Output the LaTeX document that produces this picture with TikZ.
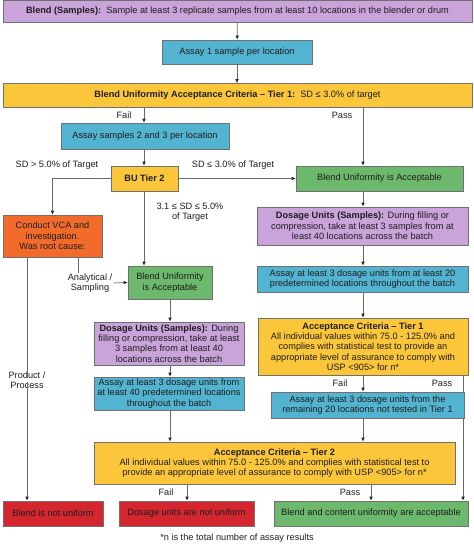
\documentclass[tikz,border=0pt]{standalone}
\usepackage{fontspec}
\setmainfont{Liberation Sans}
\usetikzlibrary{arrows.meta}
\definecolor{cpurple}{HTML}{C9A3D9}
\definecolor{cblue}{HTML}{52B4D0}
\definecolor{cyellow}{HTML}{FCC63A}
\definecolor{cgreen}{HTML}{6CB86C}
\definecolor{corange}{HTML}{F26B2A}
\definecolor{cred}{HTML}{D3262F}
\definecolor{cedge}{HTML}{707070}
\definecolor{cline}{HTML}{6A6A6A}
\definecolor{ctext}{HTML}{1E1E1E}
\begin{document}
\begin{tikzpicture}[x=1pt,y=-1pt,
  font=\fontsize{9.2}{10.3}\selectfont,
  box/.style={draw=cedge, line width=0.6pt, align=center, inner sep=1pt, text=ctext},
  lbl/.style={align=center, inner sep=1pt, text=ctext},
  conn/.style={draw=cline, line width=0.7pt},
  arr/.style={conn, -{Latex[length=4pt,width=3.6pt,color=black!85]}}]
\useasboundingbox (0,0) rectangle (474,544);

% boxes
\node[box, fill=cpurple, minimum width=469pt, minimum height=22pt] (blend) at (237.5,11.5)
  {\textbf{Blend (Samples):}\ \ Sample at least 3 replicate samples from at least 10 locations in the blender or drum};
\node[box, fill=cblue, minimum width=150pt, minimum height=24pt] (assay1) at (237,52) {Assay 1 sample per location};
\node[box, fill=cyellow, minimum width=469pt, minimum height=24pt] (tier1bu) at (237.5,95.5)
  {\textbf{Blend Uniformity Acceptance Criteria – Tier 1:}\ \ SD ≤ 3.0\% of target};
\node[box, fill=cblue, minimum width=168pt, minimum height=26pt] (assay23) at (145,136) {Assay samples 2 and 3 per location};
\node[box, fill=cyellow, minimum width=67pt, minimum height=25pt] (bu2) at (144.5,178.5) {\textbf{BU Tier 2}};
\node[box, fill=cgreen, minimum width=167pt, minimum height=25pt] (buacc) at (379.5,178.5) {Blend Uniformity is Acceptable};
\node[box, fill=corange, minimum width=99pt, minimum height=42pt] (vca) at (52.5,236) {Conduct VCA and\\investigation.\\Was root cause:};
\node[box, fill=cgreen, minimum width=84pt, minimum height=33pt] (bu2acc) at (170,282.5) {Blend Uniformity\\is Acceptable};
\node[box, fill=cpurple, minimum width=150pt, minimum height=43pt] (duleft) at (169,343.5)
  {\textbf{Dosage Units (Samples):} During\\filling or compression, take at least\\3 samples from at least 40\\locations across the batch};
\node[box, fill=cblue, minimum width=150pt, minimum height=33pt] (assayleft) at (169,393.5)
  {Assay at least 3 dosage units from\\at least 40 predetermined locations\\throughout the batch};
\node[box, fill=cpurple, minimum width=211pt, minimum height=38pt] (duright) at (362.5,226)
  {\textbf{Dosage Units (Samples):} During filling or\\compression, take at least 3 samples from at\\least 40 locations across the batch};
\node[box, fill=cblue, minimum width=211pt, minimum height=26pt] (assayright) at (362.5,279)
  {Assay at least 3 dosage units from at least 20\\predetermined locations throughout the batch};

% pass line behind the remaining-assay box
\coordinate (pline) at (463,375);
\node[box, fill=cyellow, minimum width=210pt, minimum height=57pt] (tier1) at (363,346.5)
  {\textbf{Acceptance Criteria – Tier 1}\\All individual values within 75.0 - 125.0\% and\\complies with statistical test to provide an\\appropriate level of assurance to comply with\\USP <905> for n*};
\node[box, fill=cyellow, minimum width=361pt, minimum height=42pt] (tier2) at (274.5,463)
  {\textbf{Acceptance Criteria – Tier 2}\\All individual values within 75.0 - 125.0\% and complies with statistical test to\\provide an appropriate level of assurance to comply with USP <905> for n*};
\node[box, fill=cred, minimum width=100pt, minimum height=25pt] (notuni) at (53,513.5) {Blend is not uniform};
\node[box, fill=cred, minimum width=135pt, minimum height=25pt] (dunot) at (186.5,513.5) {Dosage units are not uniform};
\node[box, fill=cgreen, minimum width=194pt, minimum height=25pt] (final) at (371,513.5) {Blend and content uniformity are acceptable};

\draw[arr] (tier1.south -| pline) -- (final.north -| pline);
\node[box, fill=cblue, minimum width=193pt, minimum height=26pt] (assayrem) at (367.5,405)
  {Assay at least 3 dosage units from the\\remaining 20 locations not tested in Tier 1};

% labels
\node[lbl] (lfail1) at (124,115) {Fail};
\node[lbl] (lpass1) at (342,115) {Pass};
\node[lbl] (lsd5) at (57,165) {SD > 5.0\% of Target};
\node[lbl] (lsd3) at (233,165) {SD ≤ 3.0\% of Target};
\node[lbl] (lmid) at (190,212) {3.1 ≤ SD ≤ 5.0\%\\of Target};
\node[lbl] (lanal) at (90,283) {Analytical /\\Sampling};
\node[lbl] (lprod) at (27,380) {Product /\\Process};
\node[lbl] (lfail2) at (340,383) {Fail};
\node[lbl] (lpass2) at (442,383) {Pass};
\node[lbl] (lfail3) at (166,492) {Fail};
\node[lbl] (lpass3) at (350,492) {Pass};
\node[lbl] (foot) at (237,538) {*n is the total number of assay results};

% reference x positions
\coordinate (xa) at (144,0);
\coordinate (xb) at (363,0);
\coordinate (xc) at (170,0);
\coordinate (xd) at (78,0);
\coordinate (xe) at (27,0);
\coordinate (xf) at (187,0);
\coordinate (xg) at (371,0);

% connectors
\draw[arr] (blend) -- (assay1);
\draw[arr] (assay1) -- (tier1bu.north -| assay1);
\draw[arr] (tier1bu.south -| xa) -- (assay23.north -| xa);
\draw[arr] (tier1bu.south -| xb) -- (buacc.north -| xb);
\draw[arr] (assay23.south -| xa) -- (bu2.north -| xa);
\draw[arr] (bu2.east) -- (buacc.west);
\draw[arr] (bu2.west) -| (vca.north);
\draw[arr] (bu2.south -| xa) -- (bu2acc.north -| xa);
\draw[arr] (buacc.south -| xb) -- (duright.north -| xb);
\draw[arr] (duright.south -| xb) -- (assayright.north -| xb);
\draw[arr] (assayright.south -| xb) -- (tier1.north -| xb);
\draw[arr] (tier1.south -| xb) -- (assayrem.north -| xb);
\draw[arr] (assayrem.south -| xb) -- (tier2.north -| xb);
\draw[conn] (vca.south -| xd) -- ([yshift=-16pt]vca.south -| xd);
\draw[arr] (lanal.east) -- (bu2acc.west);
\draw[conn] (vca.south -| xe) -- ([yshift=-8pt]lprod.north -| xe);
\draw[arr] ([yshift=8pt]lprod.south -| xe) -- (notuni.north -| xe);
\draw[arr] (bu2acc.south -| xc) -- (duleft.north -| xc);
\draw[arr] (duleft.south -| xc) -- (assayleft.north -| xc);
\draw[arr] (assayleft.south -| xc) -- (tier2.north -| xc);
\draw[arr] (tier2.south -| xf) -- (dunot.north -| xf);
\draw[arr] (tier2.south -| xg) -- (final.north -| xg);
\end{tikzpicture}
\end{document}
